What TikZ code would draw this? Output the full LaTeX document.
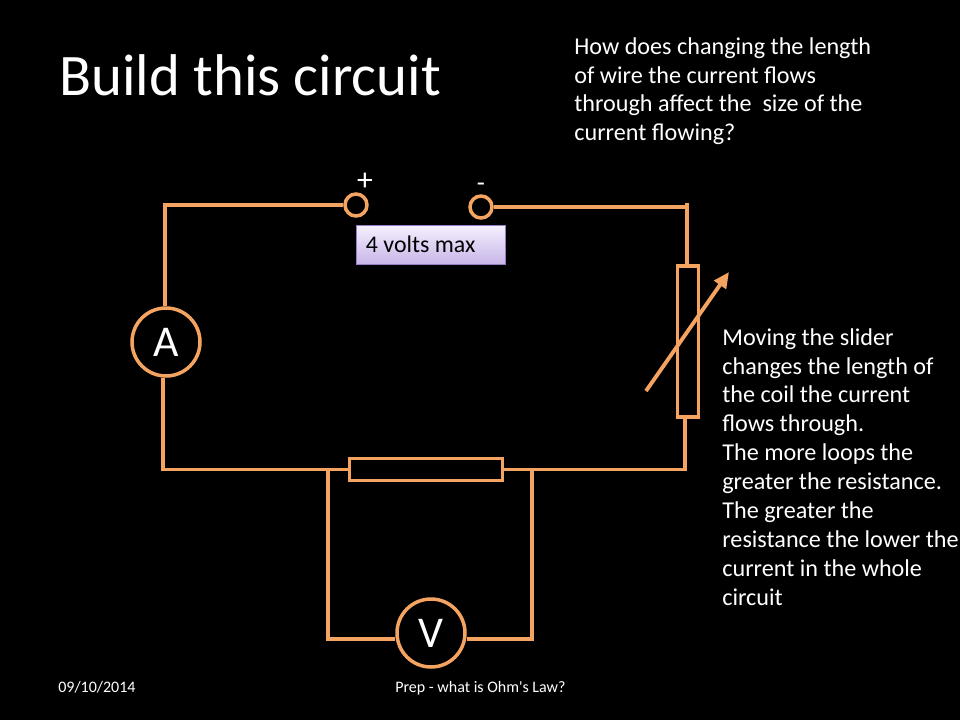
\documentclass[tikz,border=0pt]{standalone}
\usepackage{fontspec}
\setmainfont{Carlito}
\usetikzlibrary{positioning, arrows.meta, calc}
\definecolor{wirecol}{RGB}{244,163,96}
\definecolor{boxtop}{RGB}{245,240,255}
\definecolor{boxbot}{RGB}{200,182,232}
\definecolor{boxline}{RGB}{150,125,195}
\tikzset{
  wire/.style={draw=wirecol, line width=2.2pt},
  meter/.style={circle, draw=wirecol, line width=2pt, minimum size=1.36cm, inner sep=0pt, text=white, font=\fontsize{25}{25}\selectfont},
  terminal/.style={circle, draw=wirecol, line width=2pt, minimum size=0.44cm, inner sep=0pt},
  resbox/.style={rectangle, draw=wirecol, line width=2pt, inner sep=0pt},
  words/.style={text=white, align=left, anchor=north west, inner sep=0pt, font=\fontsize{13.75}{16.45}\selectfont},
  small/.style={text=white, font=\fontsize{9.1}{10}\selectfont, inner sep=0pt, anchor=base west},
  sign/.style={text=white, font=\fontsize{18}{18}\selectfont, inner sep=0pt}
}
\begin{document}
\begin{tikzpicture}[x=0.02cm, y=-0.02cm]
\fill[black] (0, 0) rectangle (960, 720);
\useasboundingbox (0, 0) rectangle (960, 720);
% texts
\node[text=white, anchor=west, inner sep=0pt, font=\fontsize{33.5}{33.5}\selectfont] (title) at (59, 75) {Build this circuit};
\node[words] (question) at (574, 37) {How does changing the length\\of wire the current flows\\through affect the\ \ size of the\\current flowing?};
\node[words] (notes) at (722, 328) {Moving the slider\\changes the length of\\the coil the current\\flows through.\\The more loops the\\greater the resistance.\\The greater the\\resistance the lower the\\current in the whole\\circuit};
\node[small] (date) at (58, 692) {09/10/2014};
\node[small] (footer) at (395, 692) {Prep - what is Ohm\textquotesingle s Law?};
% parts of the circuit
\node[meter] (ammeter) at (166, 342) {A};
\node[meter] (voltmeter) at (431, 633) {V};
\node[terminal] (plus) at (356, 205) {};
\node[terminal] (minus) at (481, 207) {};
\node[sign] (pluslabel) at (365, 182) {+};
\node[sign, font=\fontsize{15}{15}\selectfont] (minuslabel) at (481, 187) {-};
\node[resbox, minimum width=3.06cm, minimum height=0.44cm] (resistor) at (426, 469.5) {};
\node[resbox, minimum width=0.42cm, minimum height=3.02cm] (rheostat) at (688, 341.5) {};
\node[rectangle, draw=boxline, top color=boxtop, bottom color=boxbot, minimum width=2.98cm, minimum height=0.78cm, inner sep=0pt, line width=0.5pt, font=\fontsize{13.6}{14}\selectfont] (supply) at (430.5, 244.5) {\hspace*{-0.39cm}4 volts max};
% corners
\coordinate (topleft) at (165, 205);
\coordinate (botleft) at (163, 469.5);
\coordinate (botright) at (685, 469.5);
\coordinate (rheotop) at (687, 203);
\coordinate (vleft) at (328, 469);
\coordinate (vright) at (532, 469);
\coordinate (vleftlow) at (328, 639);
\coordinate (vrightlow) at (532, 639);
\coordinate (sliderstart) at (646, 391);
\coordinate (sliderend) at (729, 272);
% wires
\draw[wire] (plus.west) -- (topleft) -- (ammeter.north -| topleft);
\draw[wire] (ammeter.south -| botleft) -- (botleft) -- (resistor.west);
\draw[wire] (minus.east) -- (minus.east -| rheotop);
\draw[wire] (rheotop) -- (rheostat.north -| rheotop);
\draw[wire] (resistor.east) -- (botright) -- (rheostat.south -| botright);
\draw[wire] (vleft) -- (vleftlow) -- (voltmeter.west |- vleftlow);
\draw[wire] (vright) -- (vrightlow) -- (voltmeter.east |- vrightlow);
\draw[wire, -{Triangle[length=9pt, width=8pt]}] (sliderstart) -- (sliderend);
\end{tikzpicture}
\end{document}
